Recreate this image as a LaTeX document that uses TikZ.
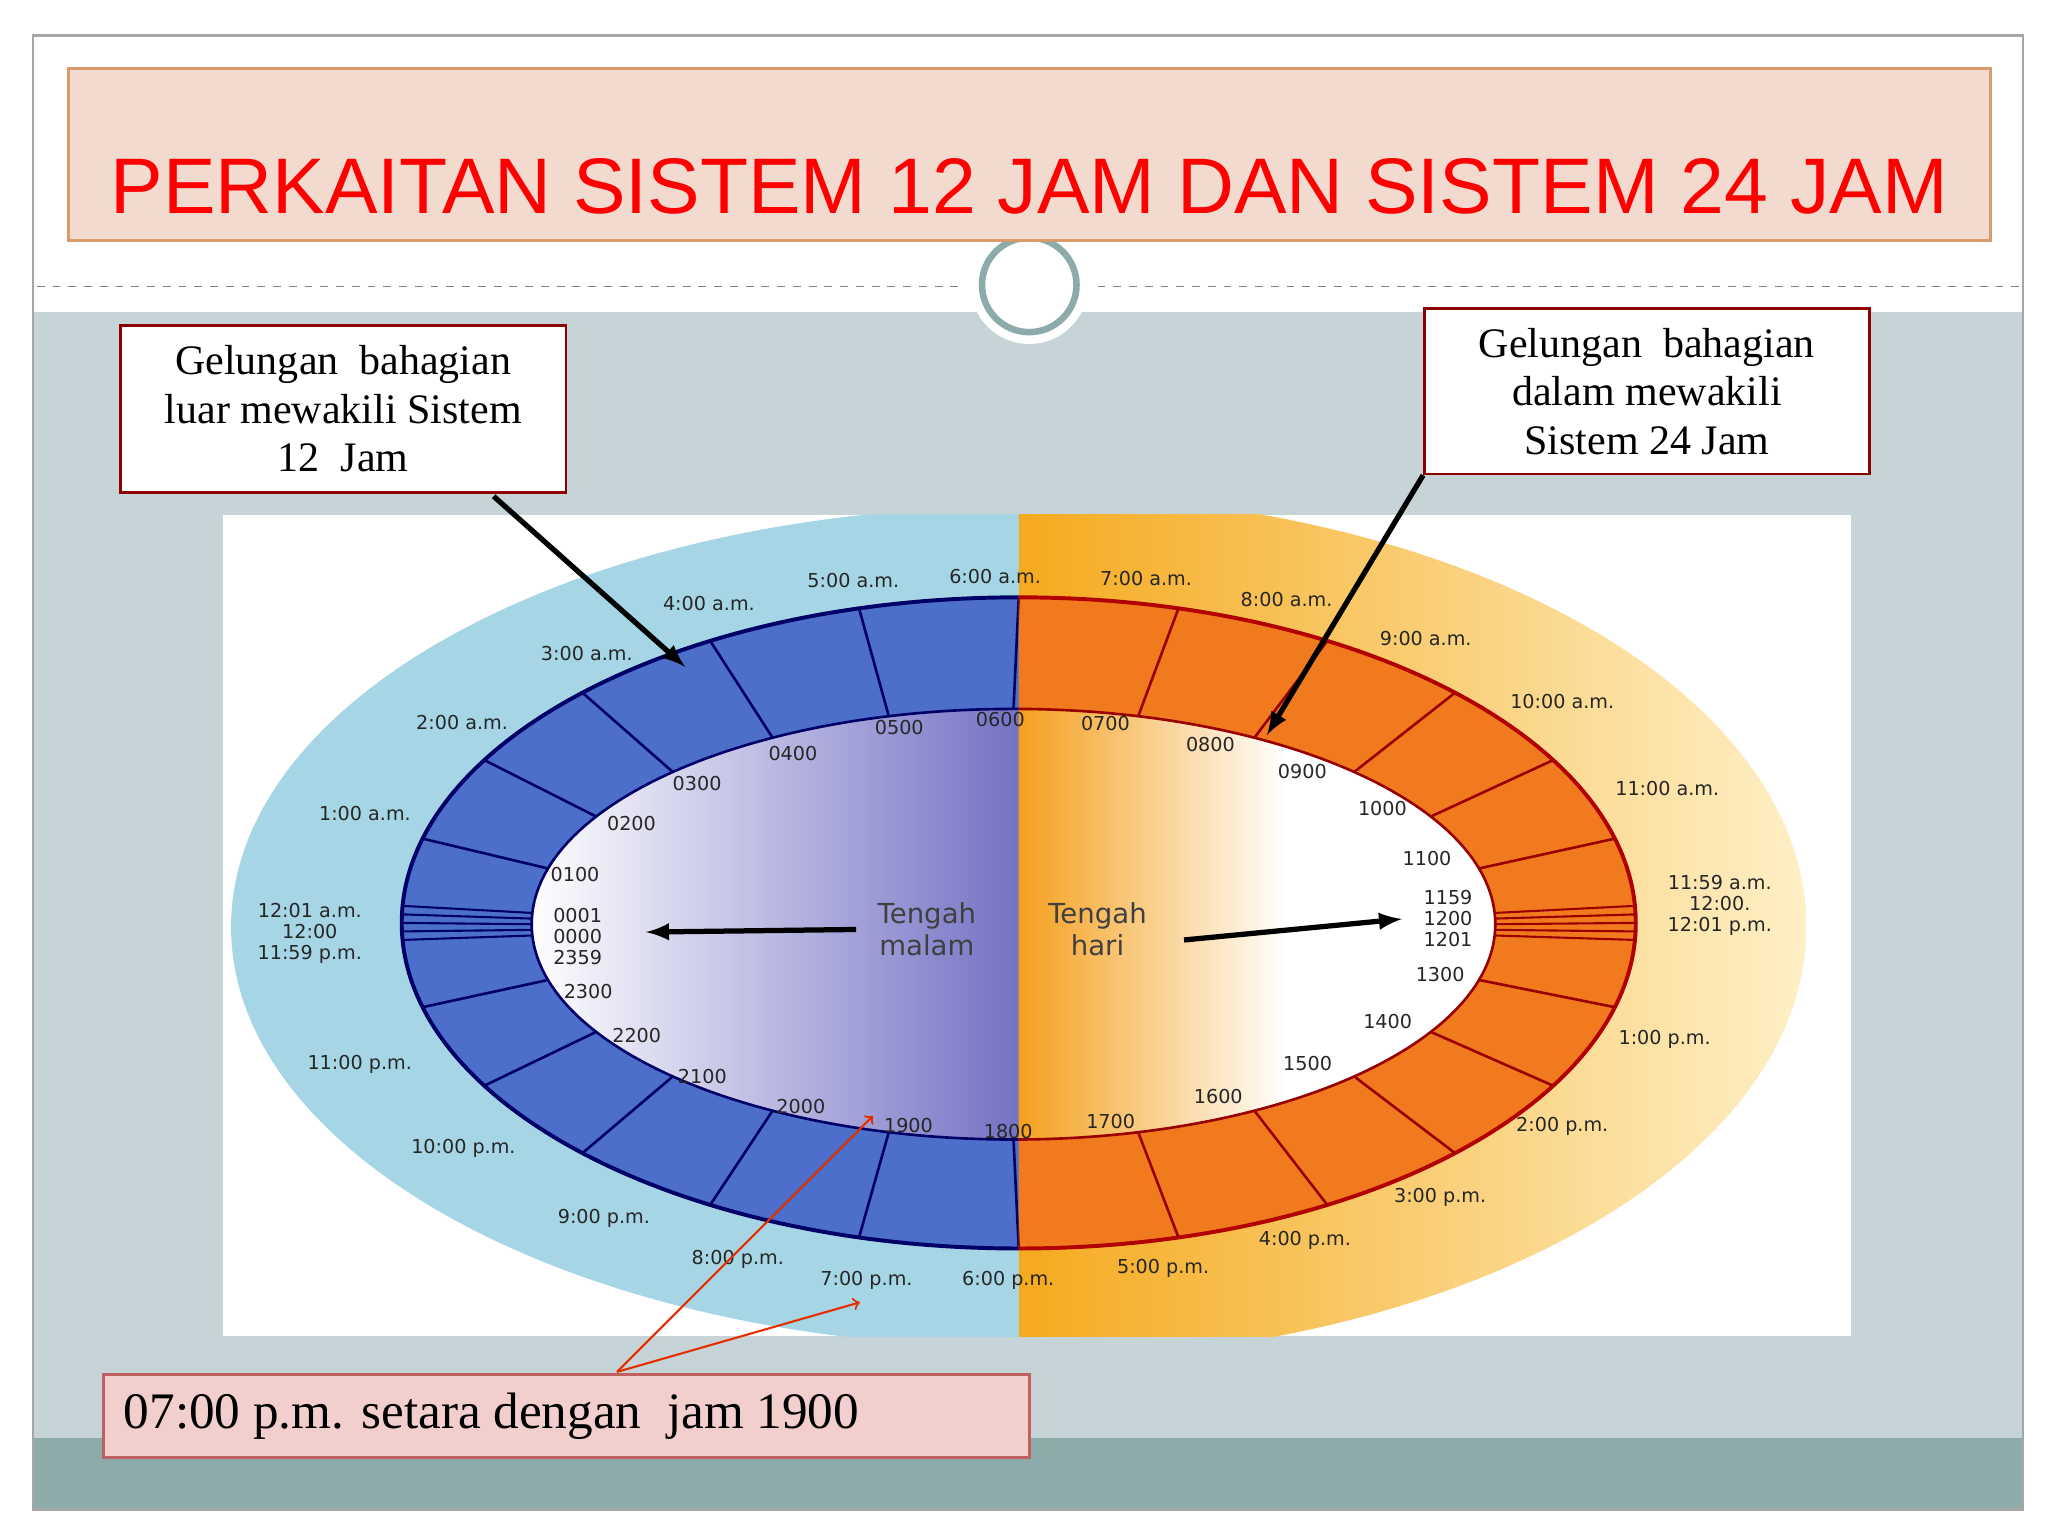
\documentclass[tikz,border=0pt]{standalone}
\usepackage{fontspec}
\setmainfont{Liberation Serif}
\newfontfamily\titlefont{Liberation Sans}
\newfontfamily\labfont{DejaVu Sans}
\begin{document}
\begin{tikzpicture}[x=0.5pt,y=-0.5pt,
  lab/.style={font=\labfont\fontsize{7.3}{8}\selectfont, text=black!85, align=center, inner sep=0pt},
  txtbox/.style={draw=red!55!black, fill=white, line width=1pt, align=center, font=\fontsize{16}{18.5}\selectfont}]
\definecolor{bgmid}{HTML}{C6D4D7}
\definecolor{bgbot}{HTML}{8EABAC}
\definecolor{ringblue}{HTML}{4B6FCB}
\definecolor{ringorange}{HTML}{F27A1E}
\definecolor{glowblue}{HTML}{A6D6E6}
\definecolor{purp}{HTML}{7472C4}
\useasboundingbox (0,0) rectangle (1560,1170);
\fill[white] (0,0) rectangle (1560,1170);
\fill[bgmid] (25,238) rectangle (1541,1095);
\fill[bgbot] (25,1095) rectangle (1541,1150);
\draw[gray!70, line width=1pt] (25,27) rectangle (1541,1150);
\draw[gray, dashed] (28,218) -- (730,218);
\draw[gray, dashed] (836,218) -- (1538,218);
\node[circle, fill=white, minimum size=45pt, inner sep=0pt] (c1) at (784,217) {};
\node[circle, draw=bgbot, line width=2.5pt, minimum size=36pt, inner sep=0pt] (c2) at (784,217) {};
% title
\node[draw={rgb,255:red,217;green,154;blue,108}, fill={rgb,255:red,242;green,218;blue,207}, line width=1pt,
  minimum width=732pt, minimum height=65.5pt, inner sep=0pt] (title) at (784,117.5) {};
\node[font=\titlefont\fontsize{30}{33}\selectfont, text=red, inner sep=0pt, anchor=base] (tt) at (784,163) {PERKAITAN SISTEM 12 JAM DAN SISTEM 24 JAM};
% diagram background
\fill[white] (170,392) rectangle (1410,1018);
\begin{scope}
  \clip (170,392) rectangle (776,1018);
  \fill[glowblue] (776,706) ellipse [x radius=300pt, y radius=160pt];
  \fill[ringblue] (776,703) ellipse [x radius=235pt, y radius=124pt];
  \begin{scope}
    \clip (772,704) ellipse [x radius=183.5pt, y radius=82pt];
    \shade[left color=white, right color=purp] (405,540) rectangle (776,870);
  \end{scope}
  \draw[blue!40!black, line width=1.5pt] (776,703) ellipse [x radius=235pt, y radius=124pt];
  \draw[blue!40!black, line width=1pt] (772,704) ellipse [x radius=183.5pt, y radius=82pt];
  \foreach \h in {1,...,11,13,14,...,23}{
    \pgfmathsetmacro\a{180-15*\h}
    \draw[blue!40!black, line width=1pt] ({772+367*cos(\a)},{704-164*sin(\a)}) -- ({776+470*cos(\a)},{703-248*sin(\a)});}
  \foreach \a in {177,178.5,180,181.5,183}{
    \draw[blue!40!black, line width=0.8pt] ({772+367*cos(\a)},{704-164*sin(\a)}) -- ({776+470*cos(\a)},{703-248*sin(\a)});}
\end{scope}
\begin{scope}
  \clip (776,392) rectangle (1410,1018);
  \begin{scope}
    \clip (776,706) ellipse [x radius=300pt, y radius=165pt];
    \shade[left color={rgb,255:red,245;green,170;blue,30}, right color={rgb,255:red,254;green,240;blue,200}] (776,392) rectangle (1380,1018);
  \end{scope}
  \fill[ringorange] (776,703) ellipse [x radius=235pt, y radius=124pt];
  \begin{scope}
    \clip (772,704) ellipse [x radius=183.5pt, y radius=82pt];
    \shade[left color={rgb,255:red,245;green,160;blue,30}, right color=white] (776,540) rectangle (980,870);
    \fill[white] (980,540) rectangle (1145,870);
  \end{scope}
  \draw[red!70!black, line width=1.5pt] (776,703) ellipse [x radius=235pt, y radius=124pt];
  \draw[red!60!black, line width=1pt] (772,704) ellipse [x radius=183.5pt, y radius=82pt];
  \foreach \h in {1,...,11,13,14,...,23}{
    \pgfmathsetmacro\a{180-15*\h}
    \draw[red!60!black, line width=1pt] ({772+367*cos(\a)},{704-164*sin(\a)}) -- ({776+470*cos(\a)},{703-248*sin(\a)});}
  \foreach \a in {-3,-1.5,0,1.5,3}{
    \draw[red!60!black, line width=0.8pt] ({772+367*cos(\a)},{704-164*sin(\a)}) -- ({776+470*cos(\a)},{703-248*sin(\a)});}
\end{scope}
% outer labels
\node[lab] (o5) at (650,442) {5:00 a.m.};
\node[lab] (o6) at (758,439) {6:00 a.m.};
\node[lab] (o7) at (873,441) {7:00 a.m.};
\node[lab] (o8) at (980,457) {8:00 a.m.};
\node[lab] (o9) at (1086,486) {9:00 a.m.};
\node[lab] (o10) at (1190,534) {10:00 a.m.};
\node[lab] (o11) at (1270,601) {11:00 a.m.};
\node[lab] (o12) at (1310,690) {11:59 a.m.\\12:00.\\12:01 p.m.};
\node[lab] (o13) at (1268,792) {1:00 p.m.};
\node[lab] (o14) at (1190,858) {2:00 p.m.};
\node[lab] (o15) at (1097,912) {3:00 p.m.};
\node[lab] (o16) at (994,945) {4:00 p.m.};
\node[lab] (o17) at (886,966) {5:00 p.m.};
\node[lab] (o18) at (768,975) {6:00 p.m.};
\node[lab] (o19) at (660,975) {7:00 p.m.};
\node[lab] (o20) at (562,959) {8:00 p.m.};
\node[lab] (o21) at (460,928) {9:00 p.m.};
\node[lab] (o22) at (353,875) {10:00 p.m.};
\node[lab] (o23) at (274,811) {11:00 p.m.};
\node[lab] (o0) at (236,711) {12:01 a.m.\\12:00\\11:59 p.m.};
\node[lab] (o1) at (278,620) {1:00 a.m.};
\node[lab] (o2) at (352,550) {2:00 a.m.};
\node[lab] (o3) at (447,498) {3:00 a.m.};
\node[lab] (o4) at (540,460) {4:00 a.m.};
% inner labels
\node[lab] (i6) at (762,548) {0600};
\node[lab] (i7) at (842,551) {0700};
\node[lab] (i8) at (922,567) {0800};
\node[lab] (i9) at (992,588) {0900};
\node[lab] (i10) at (1053,616) {1000};
\node[lab] (i11) at (1087,654) {1100};
\node[lab] (i12) at (1103,700) {1159\\1200\\1201};
\node[lab] (i13) at (1097,742) {1300};
\node[lab] (i14) at (1057,778) {1400};
\node[lab] (i15) at (996,810) {1500};
\node[lab] (i16) at (928,835) {1600};
\node[lab] (i17) at (846,854) {1700};
\node[lab] (i18) at (768,862) {1800};
\node[lab] (i19) at (692,857) {1900};
\node[lab] (i20) at (610,843) {2000};
\node[lab] (i21) at (535,820) {2100};
\node[lab] (i22) at (485,789) {2200};
\node[lab] (i23) at (448,755) {2300};
\node[lab] (i0) at (440,713) {0001\\0000\\2359};
\node[lab] (i1) at (438,666) {0100};
\node[lab] (i2) at (481,627) {0200};
\node[lab] (i3) at (531,597) {0300};
\node[lab] (i4) at (604,574) {0400};
\node[lab] (i5) at (685,554) {0500};
\node[lab, font=\labfont\fontsize{10.5}{12}\selectfont, text=black!75] (tm) at (706,708) {Tengah\\malam};
\node[lab, font=\labfont\fontsize{10.5}{12}\selectfont, text=black!75] (th) at (836,708) {Tengah\\hari};
\coordinate (la) at (492,710);
\coordinate (ra) at (1068,700);
\draw[-latex, line width=2pt] (tm.west) ++(-8pt,0) -- (la);
\draw[-latex, line width=2pt] (th.east) ++(14pt,-4pt) -- (ra);
% boxes
\node[txtbox, minimum width=169.5pt, minimum height=63.5pt] (lb) at (261.5,311.5) {Gelungan\ \ bahagian\\luar mewakili Sistem\\12\ \ Jam};
\node[txtbox, minimum width=169.5pt, minimum height=63pt] (rb) at (1254.5,298) {Gelungan\ \ bahagian\\dalam mewakili\\Sistem 24 Jam};
\coordinate (lt) at (522,508);
\coordinate (rt) at (965,560);
\draw[-latex, line width=2pt] (376,378) -- (lt);
\draw[-latex, line width=2pt] (rb.south west) -- (rt);
\node[draw={rgb,255:red,192;green,96;blue,96}, fill={rgb,255:red,242;green,207;blue,204}, line width=1pt,
  minimum width=352.5pt, minimum height=31.5pt, inner sep=0pt, anchor=west] (bb) at (78,1078.5) {};
\node[font=\fontsize{19.5}{22}\selectfont, inner sep=0pt, anchor=west] (bt) at (94,1079) {07:00 p.m. setara dengan\ \ jam 1900};
\coordinate (bs) at (470,1045);
\coordinate (t1) at (665,850);
\coordinate (t2) at (655,992);
\draw[->, red!60!orange!90!black, line width=0.8pt] (bs) -- (t1);
\draw[->, red!60!orange!90!black, line width=0.8pt] (bs) -- (t2);
\end{tikzpicture}
\end{document}
